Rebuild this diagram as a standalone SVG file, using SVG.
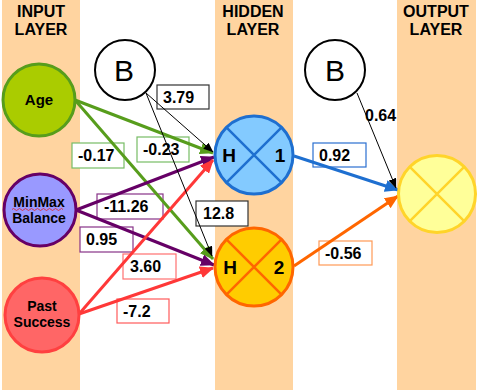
<svg xmlns="http://www.w3.org/2000/svg" width="478" height="390" viewBox="0 0 478 390">
<style>
.band{fill:#ffd4a0}
.title{font-family:"Liberation Sans",Arial,sans-serif;font-weight:bold;font-size:16px;fill:#000;text-anchor:middle}
.nt{font-family:"Liberation Sans",Arial,sans-serif;font-weight:bold;font-size:14px;fill:#000;text-anchor:middle}
.ag{font-family:"Liberation Sans",Arial,sans-serif;font-weight:bold;font-size:15px;fill:#000;text-anchor:middle}
.b{font-family:"Liberation Sans",Arial,sans-serif;font-size:30px;fill:#000;text-anchor:middle}
.h{font-family:"Liberation Sans",Arial,sans-serif;font-weight:bold;font-size:19px;fill:#000;text-anchor:middle}
.lt{font-family:"Liberation Sans",Arial,sans-serif;font-weight:bold;font-size:16px;fill:#000}
.lb{fill:#fff;stroke-width:1.2}
.c{fill:none;stroke-width:3}
.k{fill:none;stroke:#000;stroke-width:1}
</style>
<defs>
<marker id="ag" markerUnits="userSpaceOnUse" markerWidth="14" markerHeight="12" refX="13" refY="6" orient="auto"><path d="M0,0 L14,6 L0,12 Z" fill="#579d1c"/></marker>
<marker id="ap" markerUnits="userSpaceOnUse" markerWidth="14" markerHeight="12" refX="13" refY="6" orient="auto"><path d="M0,0 L14,6 L0,12 Z" fill="#660066"/></marker>
<marker id="ar" markerUnits="userSpaceOnUse" markerWidth="14" markerHeight="12" refX="13" refY="6" orient="auto"><path d="M0,0 L14,6 L0,12 Z" fill="#ff3838"/></marker>
<marker id="abl" markerUnits="userSpaceOnUse" markerWidth="14" markerHeight="12" refX="13" refY="6" orient="auto"><path d="M0,0 L14,6 L0,12 Z" fill="#1e6fd0"/></marker>
<marker id="ao" markerUnits="userSpaceOnUse" markerWidth="14" markerHeight="12" refX="13" refY="6" orient="auto"><path d="M0,0 L14,6 L0,12 Z" fill="#ff6600"/></marker>
<marker id="ak" markerUnits="userSpaceOnUse" markerWidth="10" markerHeight="8" refX="9.5" refY="4" orient="auto"><path d="M0,0 L10,4 L0,8 Z" fill="#000"/></marker>
</defs>
<rect width="478" height="390" fill="#fff"/>
<rect class="band" x="2" y="0" width="78" height="390"/>
<rect class="band" x="215" y="0" width="78" height="390"/>
<rect class="band" x="397" y="0" width="79" height="390"/>
<g id="titles">
<text class="title" x="41" y="17">INPUT</text>
<text class="title" x="41" y="35">LAYER</text>
<text class="title" x="253" y="17">HIDDEN</text>
<text class="title" x="253" y="35">LAYER</text>
<text class="title" x="436" y="17">OUTPUT</text>
<text class="title" x="436" y="35">LAYER</text>
</g>
<g id="label-boxes">
<rect class="lb" stroke="#333" x="157" y="85" width="52" height="24"/>
<rect class="lb" stroke="#77bc65" x="72" y="143" width="52" height="25"/>
<rect class="lb" stroke="#77bc65" x="137" y="137" width="52" height="25"/>
<rect class="lb" stroke="#883388" x="97" y="194" width="66" height="25"/>
<rect class="lb" stroke="#883388" x="80" y="227" width="53" height="25"/>
<rect class="lb" stroke="#ff7070" x="123" y="254" width="53" height="25"/>
<rect class="lb" stroke="#ff5a5a" x="117" y="299" width="52" height="24"/>
<rect class="lb" stroke="#333" x="196" y="201" width="52" height="25"/>
<rect class="lb" stroke="#2a6fd0" x="313" y="143" width="53" height="24"/>
<rect class="lb" stroke="#ff9955" x="319" y="241" width="53" height="24"/>
</g>
<g id="connectors">
<line class="c" stroke="#579d1c" x1="75" y1="100" x2="213" y2="153" marker-end="url(#ag)"/>
<line class="c" stroke="#579d1c" x1="75" y1="100" x2="213" y2="259" marker-end="url(#ag)"/>
<line class="c" stroke="#660066" x1="76" y1="210" x2="214" y2="157" marker-end="url(#ap)"/>
<line class="c" stroke="#660066" x1="76" y1="210" x2="214" y2="265" marker-end="url(#ap)"/>
<line class="c" stroke="#ff3838" x1="79" y1="314" x2="213" y2="160" marker-end="url(#ar)"/>
<line class="c" stroke="#ff3838" x1="79" y1="314" x2="213" y2="268" marker-end="url(#ar)"/>
<line class="k" x1="146" y1="93" x2="213" y2="152" marker-end="url(#ak)"/>
<line class="k" x1="146" y1="93" x2="212" y2="256" marker-end="url(#ak)"/>
<line class="c" stroke="#1e6fd0" x1="294" y1="156" x2="398" y2="190" marker-end="url(#abl)"/>
<line class="c" stroke="#ff6600" x1="294" y1="266" x2="398" y2="196" marker-end="url(#ao)"/>
<line class="k" x1="357" y1="93" x2="396" y2="188" marker-end="url(#ak)"/>
</g>
<g id="labels">
<text class="lt" x="163" y="103">3.79</text>
<text class="lt" x="78" y="161">-0.17</text>
<text class="lt" x="143" y="155">-0.23</text>
<text class="lt" x="104" y="212">-11.26</text>
<text class="lt" x="86" y="245">0.95</text>
<text class="lt" x="130" y="272">3.60</text>
<text class="lt" x="123" y="317">-7.2</text>
<text class="lt" x="203" y="219">12.8</text>
<text class="lt" x="319" y="161">0.92</text>
<text class="lt" x="325" y="259">-0.56</text>
<text class="lt" x="365" y="121">0.64</text>
</g>
<g id="age">
<circle cx="39" cy="100" r="36" fill="#aacc00" stroke="#579d1c" stroke-width="3"/>
<text class="ag" x="39" y="105">Age</text>
</g>
<g id="minmax">
<circle cx="40" cy="210" r="36" fill="#9999ff" stroke="#660066" stroke-width="3"/>
<text class="nt" x="39" y="207">MinMax</text>
<path d="M12,209.5 q1.5,-2 3,0 t3,0 t3,0 t3,0 t3,0 t3,0 t3,0 t3,0 t3,0 t3,0 t3,0 t3,0 t3,0 t3,0 t3,0 t3,0 t3,0" fill="none" stroke="#e02020" stroke-width="0.8"/>
<text class="nt" x="39" y="223">Balance</text>
</g>
<g id="past">
<circle cx="42" cy="315" r="37" fill="#ff6666" stroke="#ff4040" stroke-width="3"/>
<text class="nt" x="42" y="311">Past</text>
<text class="nt" x="42" y="327">Success</text>
</g>
<g id="bias1">
<circle cx="125" cy="70" r="30" fill="#fff" stroke="#000" stroke-width="2"/>
<text class="b" x="124" y="81">B</text>
</g>
<g id="bias2">
<circle cx="335" cy="70" r="30" fill="#fff" stroke="#000" stroke-width="2"/>
<text class="b" x="335" y="81">B</text>
</g>
<g id="h1">
<circle cx="254" cy="155" r="39" fill="#83caff" stroke="#1e6fd0" stroke-width="3"/>
<path d="M226.4,127.4 L281.6,182.6 M226.4,182.6 L281.6,127.4" stroke="#1e6fd0" stroke-width="2.5"/>
<text class="h" x="229" y="162">H</text>
<text class="h" x="280" y="162">1</text>
</g>
<g id="h2">
<circle cx="254" cy="267" r="39" fill="#ffcc00" stroke="#ff6600" stroke-width="3"/>
<path d="M226.4,239.4 L281.6,294.6 M226.4,294.6 L281.6,239.4" stroke="#ff6600" stroke-width="2.5"/>
<text class="h" x="230" y="274">H</text>
<text class="h" x="279" y="274">2</text>
</g>
<g id="output">
<circle cx="437" cy="194" r="38.5" fill="#ffff99" stroke="#ffd42a" stroke-width="3"/>
<path d="M409.8,166.8 L464.2,221.2 M409.8,221.2 L464.2,166.8" stroke="#ffd42a" stroke-width="2.5"/>
</g>
</svg>
